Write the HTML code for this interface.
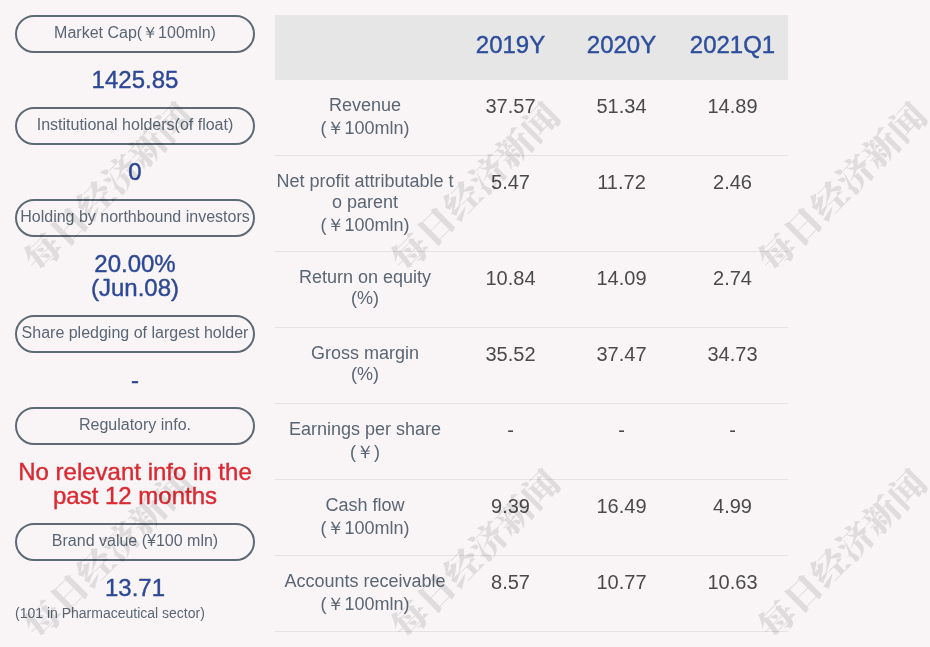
<!DOCTYPE html>
<html lang="en">
<head>
<meta charset="utf-8">
<title>Key indicators</title>
<style>
  html, body { margin: 0; padding: 0; }
  body {
    width: 930px; height: 647px; overflow: hidden; position: relative;
    background: #f9f5f6;
    font-family: "Liberation Sans", "WenQuanYi Zen Hei", sans-serif;
    color: #5a6674;
  }
  .stage { position: absolute; left: 0; top: 0; width: 930px; height: 647px; will-change: transform; }
  .left { position: absolute; left: 15px; top: 15px; width: 240px; }
  .pill {
    box-sizing: border-box; height: 38px; border: 2px solid #5e6a76; border-radius: 19px;
    font-size: 16px; line-height: 31px; text-align: center; color: #5a6674; white-space: nowrap;
  }
  .val { font-size: 24px; line-height: 24px; text-align: center; color: #2c4896; margin: 15px 0 15px; -webkit-text-stroke: 0.4px currentColor; }
  .val.red { color: #db2931; }
  .note { font-size: 14px; line-height: 16px; color: #5a6674; margin-top: -10px; white-space: nowrap; }

  .tbl { position: absolute; left: 275px; top: 15px; width: 513px; }
  .row { position: relative; box-sizing: border-box; height: 76px; border-bottom: 1px solid #e4e3e3; }
  .row.h3 { height: 96px; }
  .row.head { height: 65px; background: #e6e6e6; border-bottom-color: #e6e6e6; }
  .c { position: absolute; top: 0; text-align: center; white-space: nowrap; }
  .c0 { left: 0; width: 180px; }
  .c1 { left: 180px; width: 111px; }
  .c2 { left: 291px; width: 111px; }
  .c3 { left: 402px; width: 111px; }
  .head .c { font-size: 24px; line-height: 28px; color: #2d4e9d; top: 16px; -webkit-text-stroke: 0.4px currentColor; }
  .row .c0 { font-size: 18px; line-height: 21px; top: 15px; color: #5a6674; }
  .row .c0 span { display: block; }
  .row .c0 span.y { line-height: 23px; margin-top: 1px; margin-bottom: -1px; }
  .row .v { font-size: 20px; line-height: 23px; top: 15px; color: #4a4a4a; }
  .wm { position: absolute; font-family: "Noto Serif CJK SC", serif; font-weight: 900; font-size: 34.5px; line-height: 37px; letter-spacing: 0; color: rgba(0,0,0,0.10); transform: translate(-50%,-50%) rotate(-45deg) scale(1.07,1); white-space: nowrap; pointer-events: none; }
</style>
</head>
<body>
<div class="stage">
<div class="left">
  <div class="pill">Market Cap(￥100mln)</div>
  <div class="val">1425.85</div>
  <div class="pill">Institutional holders(of float)</div>
  <div class="val">0</div>
  <div class="pill">Holding by northbound investors</div>
  <div class="val">20.00%<br>(Jun.08)</div>
  <div class="pill">Share pledging of largest holder</div>
  <div class="val">-</div>
  <div class="pill">Regulatory info.</div>
  <div class="val red">No relevant info in the<br>past 12 months</div>
  <div class="pill">Brand value (¥100 mln)</div>
  <div class="val">13.71</div>
  <div class="note">(101 in Pharmaceutical sector)</div>
</div>
<div class="tbl">
  <div class="row head"><div class="c c1">2019Y</div><div class="c c2">2020Y</div><div class="c c3">2021Q1</div></div>
  <div class="row"><div class="c c0"><span>Revenue</span><span class="y">(￥100mln)</span></div><div class="c v c1">37.57</div><div class="c v c2">51.34</div><div class="c v c3">14.89</div></div>
  <div class="row h3"><div class="c c0"><span>Net profit attributable t</span><span>o parent</span><span class="y">(￥100mln)</span></div><div class="c v c1">5.47</div><div class="c v c2">11.72</div><div class="c v c3">2.46</div></div>
  <div class="row"><div class="c c0"><span>Return on equity</span><span>(%)</span></div><div class="c v c1">10.84</div><div class="c v c2">14.09</div><div class="c v c3">2.74</div></div>
  <div class="row"><div class="c c0"><span>Gross margin</span><span>(%)</span></div><div class="c v c1">35.52</div><div class="c v c2">37.47</div><div class="c v c3">34.73</div></div>
  <div class="row"><div class="c c0"><span>Earnings per share</span><span class="y">(￥)</span></div><div class="c v c1">-</div><div class="c v c2">-</div><div class="c v c3">-</div></div>
  <div class="row"><div class="c c0"><span>Cash flow</span><span class="y">(￥100mln)</span></div><div class="c v c1">9.39</div><div class="c v c2">16.49</div><div class="c v c3">4.99</div></div>
  <div class="row"><div class="c c0"><span>Accounts receivable</span><span class="y">(￥100mln)</span></div><div class="c v c1">8.57</div><div class="c v c2">10.77</div><div class="c v c3">10.63</div></div>
</div>
<div class="wm" style="left:106.6px;top:186px">每日经济新闻</div>
<div class="wm" style="left:473.6px;top:186px">每日经济新闻</div>
<div class="wm" style="left:840.6px;top:186px">每日经济新闻</div>
<div class="wm" style="left:106.6px;top:553px">每日经济新闻</div>
<div class="wm" style="left:473.6px;top:553px">每日经济新闻</div>
<div class="wm" style="left:840.6px;top:553px">每日经济新闻</div>
</div>
</body>
</html>
